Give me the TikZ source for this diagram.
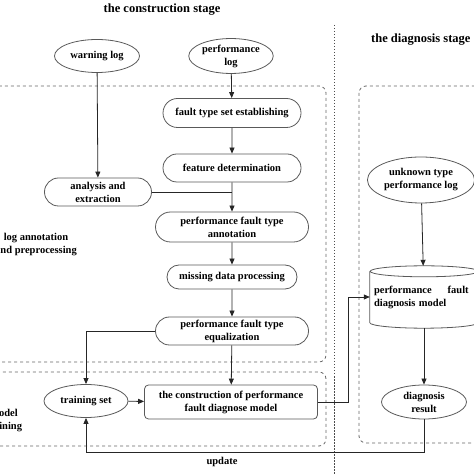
\documentclass[tikz,border=0pt]{standalone}
\usepackage{fontspec}
\setmainfont{Liberation Serif}
\usetikzlibrary{arrows.meta,shapes.misc,shapes.geometric}

\begin{document}
\begin{tikzpicture}[
  x=1pt, y=1pt,
  every node/.style={
    font=\bfseries\fontsize{10.5}{13}\selectfont,
    align=center,
    inner sep=1pt
  },
  stage title/.style={
    font=\bfseries\fontsize{12.5}{15}\selectfont
  },
  log ellipse/.style={
    ellipse,
    draw=black!65,
    thick
  },
  step box/.style={
    rounded rectangle,
    draw=black!65,
    thick,
    minimum width=140pt
  },
  model box/.style={
    rectangle,
    rounded corners=4pt,
    draw=black!65,
    thick
  },
  stage box/.style={
    draw=black!60,
    dashed,
    thick,
    rounded corners=7pt
  },
  flow arrow/.style={
    draw=black!85,
    thick,
    -{Triangle[length=6pt,width=5pt]}
  },
  flow line/.style={
    draw=black!85,
    thick
  }
]
\useasboundingbox (0,0) rectangle (474,474);
\clip (0,0) rectangle (474,474);

% stage frames
\draw[stage box] (-20,388) rectangle (326,112);
\draw[stage box] (-20,102) rectangle (326,28);
\draw[stage box] (359,388) rectangle (500,31);
\draw[black!70, thick, dash pattern=on 1.5pt off 1.5pt] (334,449) -- (334,0);

% titles and side labels
\node[stage title] (constTitle) at (162,464) {the construction stage};
\node[stage title, anchor=west] (diagTitle) at (370,434) {the diagnosis stage};
\node (annoLabel) at (36,229) {log annotation\\and preprocessing};
\node (trainLabel) at (4,53) {model\\training};
\node (updLabel) at (222,12) {update};

% construction stage
\node[log ellipse, minimum width=85pt, minimum height=33pt] (warn) at (97,418) {warning log};
\node[log ellipse, minimum width=84pt, minimum height=33pt] (perf) at (231,418) {performance\\log};
\node[step box, minimum height=29pt] (fts) at (232,361) {fault type set establishing};
\node[step box, minimum height=28pt] (feat) at (232,306) {feature determination};
\node[step box, minimum width=109pt, minimum height=28pt] (ana) at (98,282) {analysis and\\extraction};
\node[step box, minimum width=155pt, minimum height=30pt] (anno) at (232,247) {performance fault type\\annotation};
\node[step box, minimum width=132pt, minimum height=24pt] (miss) at (232,197) {missing data processing};
\node[step box, minimum width=155pt, minimum height=28pt] (equ) at (232,143) {performance fault type\\equalization};
\node[log ellipse, minimum width=84pt, minimum height=33pt] (train) at (86,73) {training set};
\node[model box, minimum width=173pt, minimum height=34pt] (cons) at (231,72) {the construction of performance\\fault diagnose model};

% diagnosis stage
\node[log ellipse, minimum width=104pt, minimum height=46pt] (unk) at (421,294) {unknown type\\performance log};
\node[rectangle, minimum width=108pt, minimum height=62pt, text width=100pt, align=left] (model) at (424,177)
      {performance\hspace{16pt}fault\\diagnosis model};
\draw[draw=black!65, thick]
  ([yshift=-5.5pt]model.north west) -- ([yshift=5.5pt]model.south west)
  arc[start angle=180, end angle=360, x radius=54pt, y radius=5.5pt]
  -- ([yshift=-5.5pt]model.north east)
  arc[start angle=0, end angle=180, x radius=54pt, y radius=5.5pt]
  arc[start angle=180, end angle=360, x radius=54pt, y radius=5.5pt];
\node[log ellipse, minimum width=85pt, minimum height=34pt] (res) at (424,72) {diagnosis\\result};

% connectors
\draw[flow arrow] (warn) -- (ana);
\foreach \a/\b in {perf/fts, fts/feat, feat/anno, anno/miss, miss/equ, equ/cons}
  \draw[flow arrow] (\a) -- (\b);
\draw[flow line] (ana.east) -- (ana.east -| feat.south);
\draw[flow arrow] (equ.west) -| (train.north);
\draw[flow arrow] (train) -- (cons);
\coordinate (bend) at (348,72);
\draw[flow arrow] (cons.east) -- (bend) |- (model.west);
\draw[flow arrow] (unk) -- (model);
\draw[flow arrow] (model) -- (res);
\coordinate (upd) at (424,22);
\draw[flow arrow] (res.south) -- (upd) -| (train.south);
\end{tikzpicture}
\end{document}
